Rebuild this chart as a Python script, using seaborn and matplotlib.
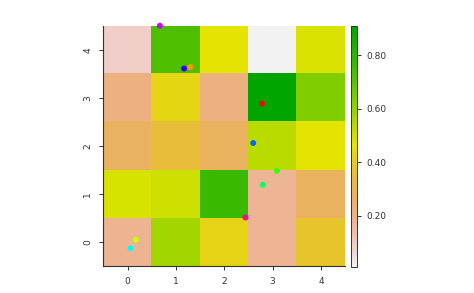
import colorsys
import numpy as np
import pandas as pd
import matplotlib
matplotlib.use('Agg')
import matplotlib.pyplot as plt
from matplotlib.colors import ListedColormap
import seaborn as sns

sns.set_style('ticks')

# raster cell values, rows from top (y = 4) to bottom (y = 0)
row_y4 = [0.09, 0.73, 0.46, 0.01, 0.48]
row_y3 = [0.22, 0.43, 0.22, 0.91, 0.63]
row_y2 = [0.275, 0.35, 0.28, 0.53, 0.46]
row_y1 = [0.484, 0.50, 0.77, 0.18, 0.28]
row_y0 = [0.19, 0.57, 0.42, 0.18, 0.38]

# sample points
pt_x = [2.78, 1.30, 0.17, 3.09, 2.80, 0.06, 2.60, 1.17, 0.67, 2.44]
pt_y = [2.88, 3.64, 0.05, 1.48, 1.19, -0.13, 2.06, 3.61, 4.50, 0.51]
pt_col = ['#FF0000', '#FF9900', '#CCFF00', '#33FF00', '#00FF66',
          '#00FFFF', '#0066FF', '#3300FF', '#CC00FF', '#FF0099']

cbar_ticks = [0.2, 0.4, 0.6, 0.8]


def terrain_colors(n):
    # R's terrain.colors, reversed (low = light, high = green)
    k = n // 2
    cols = []
    for h, v in zip(np.linspace(4 / 12, 2 / 12, k), np.linspace(0.65, 0.9, k)):
        cols.append(colorsys.hsv_to_rgb(h, 1.0, v))
    m = n - k + 1
    hs = np.linspace(2 / 12, 0, m)[1:]
    ss = np.linspace(1, 0, m)[1:]
    vs = np.linspace(0.9, 0.95, m)[1:]
    for h, s, v in zip(hs, ss, vs):
        cols.append(colorsys.hsv_to_rgb(h, s, v))
    return ListedColormap(cols[::-1])


grid = np.array([row_y4, row_y3, row_y2, row_y1, row_y0])
pts = pd.DataFrame({'x': pt_x, 'y': pt_y, 'c': pt_col})

fig = plt.figure(figsize=(4.74, 2.93), dpi=100)
ax = fig.add_axes([0.218, 0.092, 0.510, 0.820])
cax = fig.add_axes([0.7405, 0.090, 0.0133, 0.822])

im = ax.imshow(grid, cmap=terrain_colors(255), extent=(-0.5, 4.5, -0.5, 4.5),
               origin='upper', interpolation='nearest', aspect='auto')

sns.scatterplot(data=pts, x='x', y='y', hue='c', palette={c: c for c in pt_col},
                s=18, edgecolor='none', legend=False, ax=ax, clip_on=False, zorder=3)

ax.set_xlim(-0.5, 4.5)
ax.set_ylim(-0.5, 4.5)
ax.set_xticks(range(5))
ax.set_yticks(range(5))
ax.set_xlabel('')
ax.set_ylabel('')
ax.tick_params(labelsize=6.5, colors='#333333', length=3, width=0.7, pad=5)
plt.setp(ax.get_yticklabels(), rotation=90, va='center')
sns.despine(ax=ax, top=True, right=True)
for sp in ['left', 'bottom']:
    ax.spines[sp].set_linewidth(0.8)
    ax.spines[sp].set_color('#333333')

cb = fig.colorbar(im, cax=cax, ticks=cbar_ticks)
cb.ax.set_yticklabels(['%.2f' % t for t in cbar_ticks])
cb.ax.tick_params(labelsize=6.5, colors='#333333', direction='inout', length=6, width=0.7)
cb.outline.set_linewidth(0.7)
cb.outline.set_edgecolor('#333333')

fig.savefig('out.png', dpi=100)
